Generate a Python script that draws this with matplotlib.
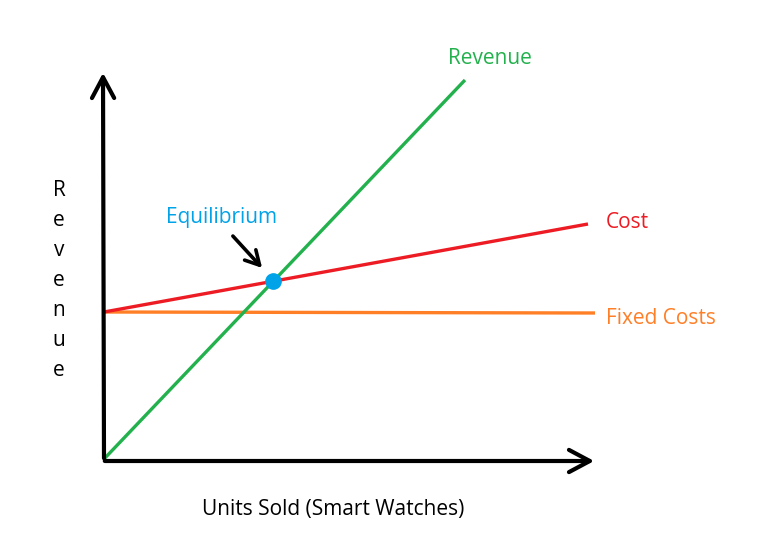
import matplotlib.pyplot as plt

plt.rcParams['font.family'] = ['Open Sans', 'DejaVu Sans']

# values in chart units (origin at the axes corner)
units = [0, 361, 484, 491]
revenue = [0, 379]
cost = [147, 235]
fixed_costs = [147, 146]
equilibrium = (169, 178)

GREEN = '#22b14c'
RED = '#ed1c24'
ORANGE = '#ff7f27'
BLUE = '#00a2e8'

fig = plt.figure(figsize=(7.68, 5.53), dpi=100)
ax = fig.add_axes([0, 0, 1, 1])
ax.set_xlim(-104, 664)
ax.set_ylim(-94, 459)
ax.axis('off')

# axes with open arrowheads
head = '->,head_length=1.5,head_width=0.8'
ax.annotate('', xy=(-1, 389), xytext=(0, -2),
            arrowprops=dict(arrowstyle=head, lw=3, color='black'))
ax.annotate('', xy=(493, -2), xytext=(-2, -2),
            arrowprops=dict(arrowstyle=head, lw=3, color='black'))

ax.plot([units[0], units[3]], fixed_costs, color=ORANGE, lw=2.4, solid_capstyle='butt')
ax.plot([units[0], units[2]], cost, color=RED, lw=2.4, solid_capstyle='butt')
ax.plot([units[0], units[1]], revenue, color=GREEN, lw=2.4, solid_capstyle='butt')
ax.plot(*equilibrium, 'o', color=BLUE, ms=11)

ax.annotate('', xy=(equilibrium[0] - 9, equilibrium[1] + 11), xytext=(127, 225),
            arrowprops=dict(arrowstyle='->,head_length=1.0,head_width=0.55', lw=2.6, color='black'))

fs = 15
ax.text(386, 401, 'Revenue', color=GREEN, fontsize=fs, ha='center', va='center')
ax.text(502, 237, 'Cost', color=RED, fontsize=fs, ha='left', va='center')
ax.text(502, 141, 'Fixed Costs', color=ORANGE, fontsize=fs, ha='left', va='center')
ax.text(118, 242, 'Equilibrium', color=BLUE, fontsize=fs, ha='center', va='center')
ax.text(229, -50, 'Units Sold (Smart Watches)', color='black', fontsize=fs, ha='center', va='center')
for i, ch in enumerate('Revenue'):
    ax.text(-45, 269 - i * 30, ch, color='black', fontsize=fs, ha='center', va='center')

fig.savefig('out.png', dpi=100)
